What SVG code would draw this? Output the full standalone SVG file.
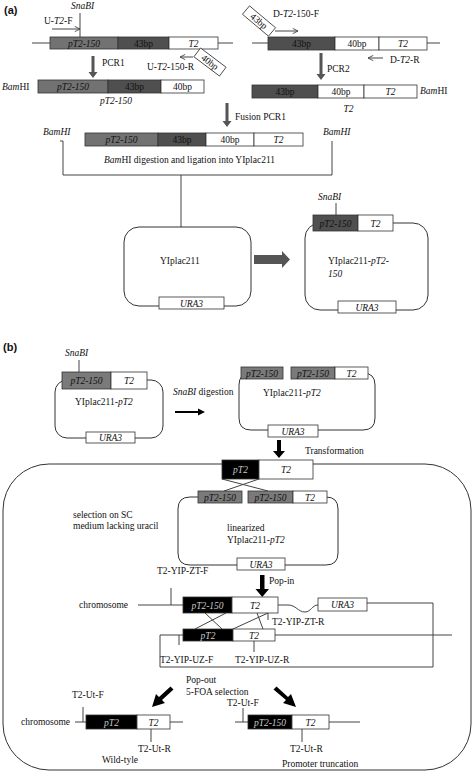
<svg xmlns="http://www.w3.org/2000/svg" width="474" height="774" viewBox="0 0 474 774">
<style>
.t{font-family:"Liberation Serif","Times New Roman",serif;font-size:9.5px;fill:#111}
.i{font-style:italic}
.c{text-anchor:middle}
.w{fill:#c8c8c8}
.lbl{font-family:"Liberation Sans",Arial,sans-serif;font-size:11px;font-weight:bold;fill:#111}
.ln{stroke:#444;stroke-width:1;fill:none}
.bx{stroke:#333;stroke-width:0.8}
.g1{fill:#727272}
.g2{fill:#4f4f4f}
.g3{fill:#7a7a7a}
.wh{fill:#fff}
.bk{fill:#000}
.pl{stroke:#333;stroke-width:1;fill:none}
</style>
<defs>
<marker id="oa" viewBox="0 0 8 8" refX="7" refY="4" markerWidth="7" markerHeight="7" markerUnits="userSpaceOnUse" orient="auto">
<path d="M1,1 L7,4 L1,7" fill="none" stroke="#444" stroke-width="1"/>
</marker>
</defs>
<rect width="474" height="774" fill="#fff"/>

<text class="lbl" x="4" y="14">(a)</text>
<text class="lbl" x="3" y="351">(b)</text>

<g id="connectors">
<!-- part a -->
<line class="ln" x1="32" y1="43" x2="233" y2="43"/>
<line class="ln" x1="80" y1="13" x2="80" y2="37"/>
<line class="ln" x1="52" y1="29" x2="80" y2="29" marker-end="url(#oa)"/>
<line class="ln" x1="193" y1="57" x2="180" y2="57" marker-end="url(#oa)"/>
<line class="ln" x1="252" y1="43" x2="440" y2="43"/>
<line class="ln" x1="275" y1="31" x2="298" y2="31" marker-end="url(#oa)"/>
<line class="ln" x1="383" y1="58" x2="368" y2="58" marker-end="url(#oa)"/>
<path d="M91.5,56 H94.5 V72 H97.5 L93,78 L88.5,72 H91.5 Z" fill="#555"/>
<path d="M319.5,53 H322.5 V74 H325.5 L321,80 L316.5,74 H319.5 Z" fill="#555"/>
<path d="M225.5,103 H228.5 V121 H231.5 L227,127 L222.5,121 H225.5 Z" fill="#555"/>
<path class="ln" d="M60,141 H63 V175 H332 V141"/>
<line class="ln" x1="181" y1="175" x2="181" y2="227"/>
<line class="ln" x1="336" y1="203" x2="336" y2="215"/>
<polygon points="254,255 282,255 282,251 290,259.5 282,268 282,264 254,264" fill="#555"/>
<!-- part b -->
<line class="ln" x1="79" y1="360" x2="79" y2="372"/>
<line x1="175" y1="412" x2="199" y2="412" stroke="#000" stroke-width="2"/>
<polygon points="198,408.5 205,412 198,415.5" fill="#000"/>
<path d="M277,440 H281 V451 H285 L279,458 L273,451 H277 Z" fill="#000"/>
<line class="ln" x1="222" y1="479" x2="268" y2="491"/>
<line class="ln" x1="259" y1="479" x2="224" y2="491"/>
<path d="M260,575 H264.5 V589 H269 L262.25,597 L255.5,589 H260 Z" fill="#000"/>
<line class="ln" x1="138" y1="605" x2="183" y2="605"/>
<line class="ln" x1="171" y1="588" x2="171" y2="605"/>
<path class="ln" d="M278,605 H288 C296,605 298,612 305,612 C311,612 312,605 318,605"/>
<path class="ln" d="M367,603 H433 V667 H160 V635 H183"/>
<line class="ln" x1="275" y1="635" x2="452" y2="635"/>
<line class="ln" x1="179" y1="635" x2="179" y2="645"/>
<line class="ln" x1="254" y1="641" x2="254" y2="652"/>
<line class="ln" x1="268" y1="613" x2="268" y2="620"/>
<line class="ln" x1="205" y1="613" x2="222" y2="629"/>
<line class="ln" x1="226" y1="613" x2="195" y2="629"/>
<line class="ln" x1="268" y1="613" x2="233" y2="629"/>
<line class="ln" x1="257" y1="613" x2="263" y2="629"/>
<path d="M170.5,686.5 L173.5,689.5 L162,700 L165,703 L152,707 L156,694 L159,697 Z" fill="#000"/>
<path d="M273.5,689.5 L276.5,686.5 L288,697 L291,694 L296,707 L283,703 L286,700 Z" fill="#000"/>
<line class="ln" x1="83" y1="707" x2="83" y2="722"/>
<line class="ln" x1="75" y1="722" x2="86" y2="722"/>
<line class="ln" x1="170" y1="722" x2="183" y2="722"/>
<line class="ln" x1="151" y1="729" x2="151" y2="742"/>
<line class="ln" x1="243" y1="708" x2="243" y2="722"/>
<line class="ln" x1="235" y1="722" x2="248" y2="722"/>
<line class="ln" x1="329" y1="722" x2="360" y2="722"/>
<line class="ln" x1="302" y1="729" x2="302" y2="742"/>
</g>

<g id="template-upstream">
<rect class="bx g1" x="50" y="37" width="68" height="12"/>
<rect class="bx g2" x="118" y="37" width="51" height="12"/>
<rect class="bx wh" x="169" y="37" width="49" height="12"/>
<text class="t i c" x="84" y="46.5">pT2-150</text>
<text class="t c" x="143.5" y="46.5">43bp</text>
<text class="t i c" x="193.5" y="46.5">T2</text>
<text class="t i" x="71" y="8.5">SnaBI</text>
<text class="t" x="44" y="24">U-<tspan class="i">T2</tspan>-F</text>
<text class="t" x="147" y="70">U-<tspan class="i">T2</tspan>-150-R</text>
<g transform="translate(210,62) rotate(37)">
<rect class="bx wh" x="-16" y="-5.5" width="32" height="11"/>
<text class="t c" x="0" y="3.3">40bp</text>
</g>
<text class="t" x="102" y="66">PCR1</text>
</g>

<g id="pcr1-product">
<rect class="bx g1" x="38" y="80" width="70" height="13"/>
<rect class="bx g2" x="108" y="80" width="53" height="13"/>
<rect class="bx wh" x="161" y="80" width="43" height="13"/>
<text class="t i c" x="73" y="90">pT2-150</text>
<text class="t c" x="134.5" y="90">43bp</text>
<text class="t c" x="182.5" y="90">40bp</text>
<text class="t" x="2" y="90"><tspan class="i">Bam</tspan>HI</text>
<text class="t i c" x="116" y="104">pT2-150</text>
</g>

<g id="template-downstream">
<g transform="translate(259,21) rotate(40)">
<rect class="bx wh" x="-17" y="-5.5" width="34" height="11"/>
<text class="t c" x="0" y="3.3">43bp</text>
</g>
<text class="t" x="273" y="17">D-<tspan class="i">T2</tspan>-150-F</text>
<rect class="bx g2" x="268" y="37" width="67" height="13"/>
<rect class="bx wh" x="335" y="37" width="44" height="13"/>
<rect class="bx wh" x="379" y="37" width="48" height="13"/>
<text class="t c" x="301.5" y="47">43bp</text>
<text class="t c" x="357" y="47">40bp</text>
<text class="t i c" x="403" y="47">T2</text>
<text class="t" x="390" y="63">D-<tspan class="i">T2</tspan>-R</text>
<text class="t" x="327" y="72">PCR2</text>
</g>

<g id="pcr2-product">
<rect class="bx g2" x="252" y="85" width="66" height="13"/>
<rect class="bx wh" x="318" y="85" width="46" height="13"/>
<rect class="bx wh" x="364" y="85" width="53" height="13"/>
<text class="t c" x="285" y="95">43bp</text>
<text class="t c" x="341" y="95">40bp</text>
<text class="t i c" x="390.5" y="95">T2</text>
<text class="t" x="420" y="94"><tspan class="i">Bam</tspan>HI</text>
<text class="t i c" x="348.5" y="112">T2</text>
<text class="t" x="235" y="120">Fusion PCR1</text>
</g>

<g id="fusion-product">
<rect class="bx g1" x="85" y="133" width="73" height="13"/>
<rect class="bx g2" x="158" y="133" width="48" height="13"/>
<rect class="bx wh" x="206" y="133" width="48" height="13"/>
<rect class="bx wh" x="254" y="133" width="49" height="13"/>
<text class="t i c" x="121.5" y="143">pT2-150</text>
<text class="t c" x="182" y="143">43bp</text>
<text class="t c" x="230" y="143">40bp</text>
<text class="t i c" x="278.5" y="143">T2</text>
<text class="t i" x="43" y="135">BamHI</text>
<text class="t i" x="323" y="135">BamHI</text>
<text class="t" x="104" y="163"><tspan class="i">Bam</tspan>HI digestion and ligation into YIplac211</text>
</g>

<g id="yiplac211">
<rect class="pl" x="124" y="227" width="127" height="79" rx="15"/>
<rect class="bx wh" x="159" y="297" width="65" height="12"/>
<text class="t i c" x="191.5" y="306.5">URA3</text>
<text class="t" x="160" y="264">YIplac211</text>
</g>

<g id="yiplac211-pT2-150">
<rect class="pl" x="305" y="223" width="123" height="87" rx="15"/>
<rect class="bx g2" x="313" y="215" width="45" height="16"/>
<rect class="bx wh" x="358" y="215" width="35" height="16"/>
<text class="t i c" x="335.5" y="226.5">pT2-150</text>
<text class="t i c" x="375.5" y="226.5">T2</text>
<text class="t i" x="318" y="200">SnaBI</text>
<text class="t" x="328" y="264">YIplac211-<tspan class="i">pT2-</tspan></text>
<text class="t i" x="328" y="277">150</text>
<rect class="bx wh" x="338" y="301" width="58" height="12"/>
<text class="t i c" x="367" y="310.5">URA3</text>
</g>

<g id="yiplac211-pT2">
<rect class="pl" x="55" y="380" width="108" height="58" rx="12"/>
<rect class="bx g3" x="62" y="372" width="49" height="17"/>
<rect class="bx wh" x="111" y="372" width="36" height="17"/>
<text class="t i c" x="86.5" y="384">pT2-150</text>
<text class="t i c" x="129" y="384">T2</text>
<text class="t i" x="65" y="356">SnaBI</text>
<text class="t" x="75" y="405">YIplac211-<tspan class="i">pT2</tspan></text>
<rect class="bx wh" x="86" y="432" width="49" height="11"/>
<text class="t i c" x="110.5" y="441">URA3</text>
<text class="t" x="173" y="395"><tspan class="i">SnaBI</tspan> digestion</text>
</g>

<g id="digested-plasmid">
<path class="pl" d="M283,373 H251 Q239,373 239,385 V418 Q239,430 251,430 H363 Q375,430 375,418 V385 Q375,373 363,373 H291"/>
<rect class="bx g3" x="241" y="367" width="42" height="12"/>
<rect class="bx g3" x="291" y="367" width="44" height="12"/>
<rect class="bx wh" x="335" y="367" width="33" height="12"/>
<text class="t i c" x="262" y="376.5">pT2-150</text>
<text class="t i c" x="313" y="376.5">pT2-150</text>
<text class="t i c" x="351.5" y="376.5">T2</text>
<text class="t" x="263" y="396">YIplac211-<tspan class="i">pT2</tspan></text>
<rect class="bx wh" x="268" y="425" width="50" height="12"/>
<text class="t i c" x="293" y="434.5">URA3</text>
<text class="t" x="305" y="454">Transformation</text>
</g>

<g id="cell">
<rect class="pl" x="3" y="464" width="468" height="306" rx="46"/>
<text class="t" x="73" y="518">selection on SC</text>
<text class="t" x="73" y="529">medium lacking uracil</text>
</g>

<g id="genomic-pT2">
<rect class="bx bk" x="222" y="460" width="37" height="19"/>
<rect class="bx wh" x="259" y="460" width="54" height="19"/>
<text class="t i c w" x="240.5" y="473">pT2</text>
<text class="t i c" x="286" y="473">T2</text>
</g>

<g id="linearized-plasmid">
<path class="pl" d="M242,497 H190 Q178,497 178,509 V553 Q178,565 190,565 H326 Q338,565 338,553 V509 Q338,497 326,497 H248"/>
<rect class="bx g3" x="198" y="491" width="44" height="12"/>
<rect class="bx g3" x="248" y="491" width="45" height="12"/>
<rect class="bx wh" x="293" y="491" width="34" height="12"/>
<text class="t i c" x="220" y="500.5">pT2-150</text>
<text class="t i c" x="270.5" y="500.5">pT2-150</text>
<text class="t i c" x="310" y="500.5">T2</text>
<text class="t" x="227" y="531">linearized</text>
<text class="t" x="227" y="543">YIplac211-<tspan class="i">pT2</tspan></text>
<rect class="bx wh" x="237" y="558" width="48" height="12"/>
<text class="t i c" x="261" y="567.5">URA3</text>
</g>

<g id="pop-in">
<text class="t" x="157" y="574">T2-YIP-ZT-F</text>
<text class="t" x="269" y="584">Pop-in</text>
<text class="t" x="79" y="608">chromosome</text>
<rect class="bx bk" x="183" y="597" width="49" height="16"/>
<rect class="bx wh" x="232" y="597" width="46" height="16"/>
<text class="t i c w" x="207.5" y="608.5">pT2-150</text>
<text class="t i c" x="255" y="608.5">T2</text>
<rect class="bx wh" x="318" y="598" width="49" height="13"/>
<text class="t i c" x="342.5" y="607.5">URA3</text>
<text class="t" x="272" y="625">T2-YIP-ZT-R</text>
<rect class="bx bk" x="183" y="629" width="50" height="12"/>
<rect class="bx wh" x="233" y="629" width="42" height="12"/>
<text class="t i c w" x="208" y="638.5">pT2</text>
<text class="t i c" x="254" y="638.5">T2</text>
<text class="t" x="160" y="663">T2-YIP-UZ-F</text>
<text class="t" x="235" y="663">T2-YIP-UZ-R</text>
</g>

<g id="pop-out">
<text class="t" x="186" y="683">Pop-out</text>
<text class="t" x="186" y="695">5-FOA selection</text>
</g>

<g id="wild-type">
<text class="t" x="72" y="698">T2-Ut-F</text>
<text class="t" x="21" y="725">chromosome</text>
<rect class="bx bk" x="86" y="715" width="51" height="14"/>
<rect class="bx wh" x="137" y="715" width="33" height="14"/>
<text class="t i c w" x="111.5" y="725.5">pT2</text>
<text class="t i c" x="153.5" y="725.5">T2</text>
<text class="t" x="138" y="752">T2-Ut-R</text>
<text class="t" x="102" y="763">Wild-tyle</text>
</g>

<g id="promoter-truncation">
<text class="t" x="227" y="706">T2-Ut-F</text>
<rect class="bx bk" x="248" y="715" width="44" height="14"/>
<rect class="bx wh" x="292" y="715" width="37" height="14"/>
<text class="t i c w" x="270" y="725.5">pT2-150</text>
<text class="t i c" x="310.5" y="725.5">T2</text>
<text class="t" x="290" y="752">T2-Ut-R</text>
<text class="t" x="282" y="767">Promoter truncation</text>
</g>
</svg>
